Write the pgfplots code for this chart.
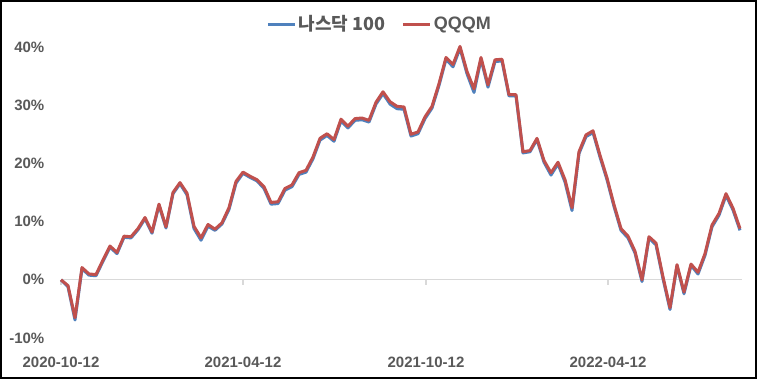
\documentclass[border=0pt]{standalone}
\usepackage{fontspec}
\setmainfont{Liberation Sans}
\newfontfamily\kr{Noto Sans CJK KR}
\usepackage{pgfplots}
\pgfplotsset{compat=1.18}
\usepackage{pgfplotstable}
\definecolor{nblue}{HTML}{4F81BD}
\definecolor{qred}{HTML}{C0504D}
\definecolor{txt}{HTML}{595959}
\definecolor{zline}{HTML}{D9D9D9}

\pgfplotstableread{
d qqqm ndx
0 0.0 0.0
7 -1.0 -1.2
14 -6.5 -6.9
21 2.1 1.9
28 1.0 0.8
35 0.9 0.7
42 3.4 3.2
49 5.8 5.6
56 4.7 4.5
63 7.5 7.3
70 7.4 7.2
77 8.8 8.6
84 10.7 10.5
91 8.2 8.0
98 13.0 12.8
105 9.1 8.9
112 15.0 14.8
119 16.7 16.5
126 14.9 14.6
133 9.2 8.8
140 7.2 6.8
147 9.5 9.2
154 8.7 8.5
161 9.8 9.6
168 12.4 12.1
175 16.9 16.6
182 18.5 18.3
189 17.8 17.6
196 17.2 17.0
203 16.0 15.7
210 13.3 13.0
217 13.4 13.1
224 15.7 15.4
231 16.3 16.0
238 18.4 18.1
245 18.8 18.5
252 21.1 20.8
259 24.3 24.0
266 25.1 24.8
273 24.1 23.8
280 27.6 27.3
287 26.4 26.1
294 27.7 27.4
301 27.8 27.5
308 27.4 27.1
315 30.5 30.2
322 32.3 32.0
329 30.6 30.2
336 29.8 29.4
343 29.7 29.3
350 25.0 24.7
357 25.4 25.1
364 28.0 27.7
371 29.8 29.5
378 33.7 33.4
385 38.2 37.9
392 37.0 36.6
399 40.1 39.8
406 35.8 35.4
413 32.8 32.2
420 38.2 37.9
427 33.5 33.1
434 37.8 37.5
441 37.9 37.6
448 31.8 31.6
455 31.8 31.6
462 22.0 21.8
469 22.2 22.0
476 24.3 24.1
483 20.5 20.2
490 18.4 18.0
497 20.2 19.9
504 17.2 16.8
511 12.4 11.9
518 22.0 21.7
525 24.9 24.6
532 25.6 25.3
539 21.4 21.1
546 17.5 17.2
553 12.9 12.6
560 8.8 8.5
567 7.5 7.2
574 4.9 4.6
581 0.0 -0.3
588 7.4 7.2
595 6.3 6.0
602 0.5 0.2
609 -4.8 -5.1
616 2.6 2.4
623 -2.1 -2.4
630 2.7 2.5
637 1.3 1.0
644 4.5 4.2
651 9.4 9.1
658 11.4 11.1
665 14.8 14.5
672 12.3 12.0
679 8.8 8.5
}\datatable

\begin{document}
\begin{tikzpicture}
\useasboundingbox (0,0) rectangle (567.75pt,284.25pt);
\fill[white] (0,0) rectangle (567.75pt,284.25pt);
\begin{axis}[
  at={(45.75pt,30.75pt)}, anchor=south west,
  scale only axis, width=510pt, height=218.25pt,
  xmin=0, xmax=680, ymin=-10, ymax=40,
  clip=false,
  axis line style={draw=none},
  tick style={draw=none},
  xtick={0,182,365,547},
  xticklabels={2020-10-12,2021-04-12,2021-10-12,2022-04-12},
  ytick={-10,0,10,20,30,40},
  yticklabels={-10\%,0\%,10\%,20\%,30\%,40\%},
  ticklabel style={font=\bfseries\fontsize{11.25}{13}\selectfont, text=txt},
  xticklabel style={anchor=north, yshift=-10.5pt},
  yticklabel style={anchor=east, xshift=-9pt},
  legend columns=2,
  legend style={at={(0.469,1.079)}, anchor=center, draw=none, fill=none,
    font=\bfseries\fontsize{13.5}{15}\selectfont, text=txt,
    /tikz/every even column/.append style={column sep=10pt}},
  legend image code/.code={\draw[#1, line width=2.25pt] (0pt,0pt) -- (20pt,0pt);},
]
\draw[zline, line width=0.8pt] (axis cs:0,0) -- (axis cs:681,0);
\draw[zline, line width=0.8pt] (axis cs:0,0) -- (axis cs:0,-0.86);
\draw[zline, line width=0.8pt] (axis cs:182,0) -- (axis cs:182,-0.86);
\draw[zline, line width=0.8pt] (axis cs:365,0) -- (axis cs:365,-0.86);
\draw[zline, line width=0.8pt] (axis cs:547,0) -- (axis cs:547,-0.86);
\addplot[nblue, line width=2.25pt, line join=round, no markers] table[x=d, y=ndx] {\datatable};
\addlegendentry{{\kr\bfseries 나스닥 100}}
\addplot[qred, line width=2.25pt, line join=round, no markers] table[x=d, y=qqqm] {\datatable};
\addlegendentry{QQQM}
\end{axis}
\draw[black, line width=1.2pt] (0.6pt,0.6pt) rectangle (567.15pt,283.65pt);
\end{tikzpicture}
\end{document}
